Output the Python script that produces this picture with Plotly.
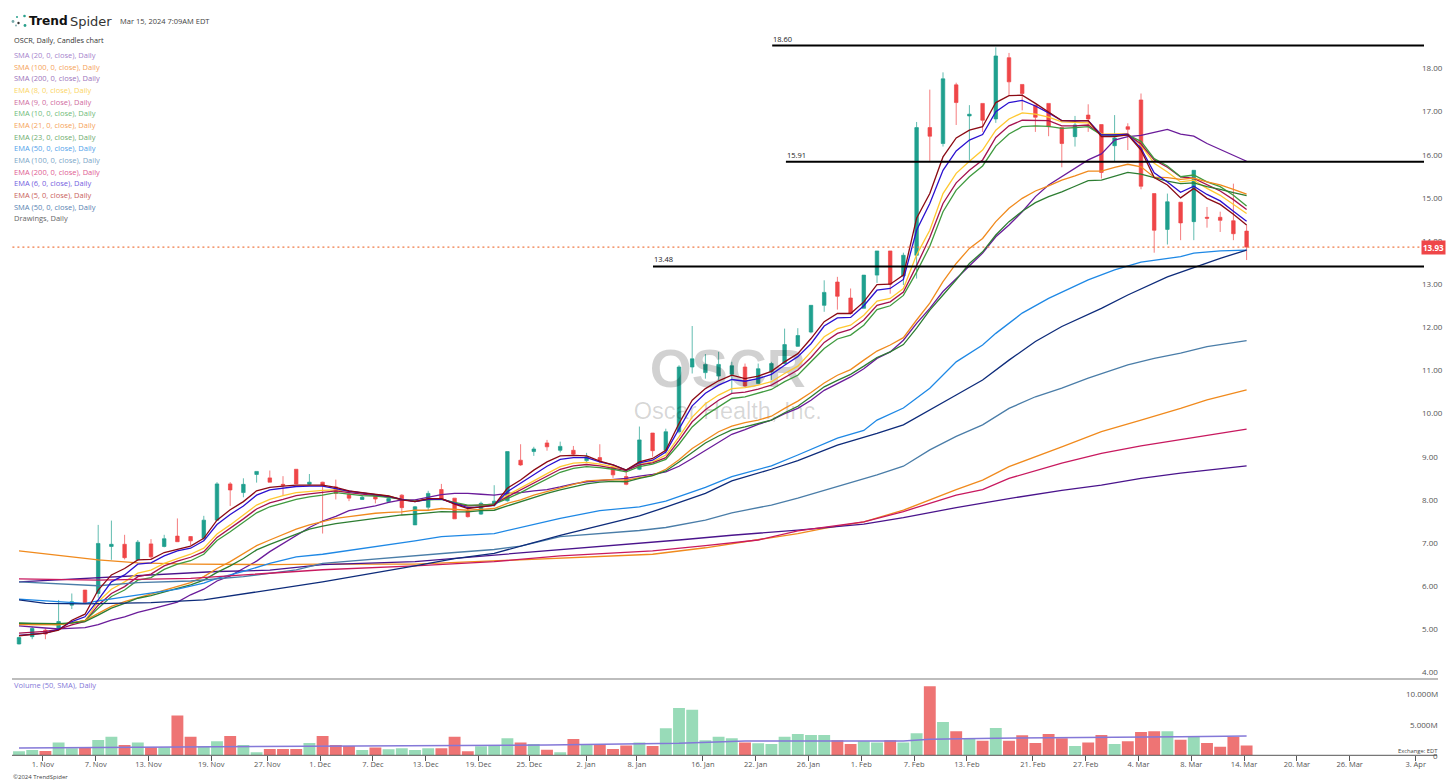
import plotly.graph_objects as go

W = 1456
H = 783

days = list(range(94))

opens = [4.73, 4.90, 5.05, 5.09, 5.63, 5.98, 5.90, 6.99, 7.04, 6.68, 7.05, 6.99, 7.23, 7.22, 7.18, 7.60, 8.44, 8.24, 8.66, 8.58, 8.43, 8.78, 8.43, 8.48,
         8.37, 8.20, 8.08, 8.17, 8.03, 8.18, 7.49, 7.90, 8.31, 8.11, 7.81, 7.74, 7.95, 8.05, 8.99, 9.19, 9.39, 9.22, 9.22, 8.98, 9.05, 8.82, 8.61, 8.78,
         9.62, 9.22, 9.65, 11.15, 11.02, 10.94, 10.98, 11.15, 10.77, 11.04, 11.23, 11.63, 11.96, 12.58, 13.12, 12.75, 12.51, 13.28, 13.84, 13.26,
         13.74, 16.70, 16.33, 17.69, 16.97, 17.26, 16.90, 18.32, 17.70, 17.22, 17.26, 16.70, 16.49, 16.99, 16.77, 16.28, 16.72, 17.34,
         15.17, 14.34, 14.97, 14.52, 14.62, 14.62, 14.54, 14.30]
highs = [4.90, 5.13, 5.09, 5.75, 5.90, 5.98, 7.49, 7.59, 7.26, 7.14, 7.16, 7.26, 7.64, 7.23, 7.70, 8.48, 8.48, 8.57, 8.73, 8.75, 8.62, 8.78, 8.67, 8.49,
         8.54, 8.30, 8.18, 8.18, 8.13, 8.20, 7.93, 8.28, 8.44, 8.11, 7.91, 8.03, 8.41, 9.19, 9.36, 9.30, 9.46, 9.42, 9.32, 9.16, 9.36, 8.84, 8.76, 9.77,
         9.62, 9.72, 11.19, 12.10, 11.45, 11.50, 11.27, 11.23, 11.23, 11.27, 12.04, 12.05, 12.58, 13.16, 13.24, 12.97, 13.28, 13.84, 13.84, 13.80,
         16.83, 17.58, 17.98, 17.74, 17.22, 17.26, 18.56, 18.43, 17.70, 17.22, 17.26, 16.70, 16.97, 17.24, 16.77, 16.99, 16.80, 17.49,
         15.17, 15.17, 14.97, 15.71, 14.86, 14.75, 15.40, 14.44]
lows = [4.72, 4.84, 4.84, 5.05, 5.54, 5.67, 5.80, 6.68, 6.69, 6.66, 6.71, 6.97, 7.10, 7.02, 7.14, 7.59, 7.93, 8.13, 8.47, 8.48, 8.17, 8.44, 8.41, 7.29,
        8.08, 8.04, 8.07, 7.99, 8.00, 7.72, 7.49, 7.82, 8.08, 7.63, 7.66, 7.72, 7.91, 8.03, 8.86, 9.09, 9.21, 9.17, 9.09, 8.95, 8.92, 8.58, 8.41, 8.76,
        9.07, 9.14, 9.61, 11.00, 10.88, 10.85, 10.54, 10.69, 10.75, 10.85, 11.22, 11.62, 11.93, 12.43, 12.48, 12.37, 12.51, 13.10, 12.85, 13.05,
        13.20, 15.93, 16.26, 16.76, 15.95, 16.60, 16.81, 17.45, 17.10, 16.60, 16.50, 15.78, 16.26, 16.60, 15.52, 15.91, 16.18, 15.27,
        13.80, 13.99, 14.09, 14.09, 14.38, 14.28, 14.09, 13.63]
closes = [4.88, 5.09, 4.96, 5.25, 5.71, 5.67, 7.06, 7.04, 6.73, 7.09, 6.75, 7.17, 7.10, 7.12, 7.60, 8.44, 8.30, 8.43, 8.73, 8.48, 8.41, 8.44, 8.48, 8.41,
          8.22, 8.11, 8.13, 8.09, 8.10, 7.89, 7.91, 8.22, 8.10, 7.63, 7.68, 7.99, 8.04, 9.19, 8.88, 9.25, 9.30, 9.31, 9.13, 9.07, 8.98, 8.65, 8.43, 9.46,
          9.21, 9.65, 11.15, 11.34, 11.21, 11.21, 11.18, 10.71, 11.11, 11.23, 11.67, 11.88, 12.58, 12.88, 12.79, 12.39, 13.28, 13.84, 13.07, 13.74,
          16.70, 16.50, 17.83, 17.28, 17.01, 16.87, 18.36, 17.76, 17.49, 16.94, 16.72, 16.33, 16.76, 16.90, 15.66, 16.46, 16.66, 15.34,
          14.32, 14.98, 14.49, 15.71, 14.60, 14.55, 14.24, 13.93]

volumes = [0.65, 0.87, 0.70, 2.07, 1.14, 1.25, 2.50, 3.04, 1.68, 2.07, 1.30, 1.30, 6.47, 3.04, 1.47, 2.28, 3.15, 1.68, 0.49, 1.03, 1.03, 1.03, 2.00, 3.15,
           1.68, 1.52, 0.87, 1.25, 0.98, 1.14, 0.87, 1.14, 1.14, 3.04, 0.65, 1.47, 1.50, 2.77, 2.07, 1.85, 0.92, 0.49, 2.66, 1.80, 1.80, 1.03, 1.58, 2.07,
           1.52, 4.40, 7.70, 7.40, 2.45, 3.04, 2.77, 2.07, 1.96, 1.85, 3.04, 3.48, 3.30, 3.30, 2.45, 1.85, 2.28, 2.07, 2.45, 2.07,
           3.60, 11.25, 5.43, 3.90, 2.77, 2.39, 4.46, 2.39, 3.26, 2.00, 3.48, 2.77, 1.52, 2.07, 3.30, 1.85, 2.28, 3.80,
           3.90, 3.90, 2.55, 3.10, 2.00, 1.41, 3.00, 1.58]
vol_up = [1, 1, 0, 1, 1, 0, 1, 1, 0, 1, 0, 1, 0, 0, 1, 1, 0, 1, 1, 0, 0, 0, 1, 0,
          0, 0, 1, 0, 1, 1, 1, 1, 0, 0, 0, 1, 1, 1, 0, 1, 0, 1, 0, 1, 0, 0, 0, 1,
          0, 1, 1, 1, 1, 1, 1, 0, 1, 1, 1, 1, 1, 1, 0, 0, 1, 1, 0, 1,
          1, 0, 1, 0, 1, 0, 1, 0, 0, 0, 0, 0, 1, 0, 0, 1, 0, 0,
          0, 1, 0, 1, 0, 0, 0, 0]
vol_sma_x = [0, 10, 20, 30, 40, 50, 55, 67, 69, 74, 80, 88, 93]
vol_sma = [1.20, 1.30, 1.50, 1.57, 1.68, 1.95, 2.33, 2.33, 2.60, 2.77, 2.93, 3.04, 3.15]

ema5 = [4.92, 4.95, 4.98, 5.05, 5.28, 5.42, 5.98, 6.33, 6.48, 6.68, 6.69, 6.85, 6.93, 7.00, 7.18, 7.60, 7.84, 8.03, 8.28, 8.36, 8.39, 8.41, 8.41, 8.41,
        8.36, 8.28, 8.24, 8.20, 8.16, 8.07, 8.03, 8.10, 8.10, 7.97, 7.87, 7.91, 7.95, 8.34, 8.53, 8.76, 8.95, 9.09, 9.10, 9.09, 8.97, 8.88, 8.76, 8.95,
        9.03, 9.22, 9.84, 10.38, 10.65, 10.83, 10.96, 10.88, 10.94, 11.05, 11.27, 11.46, 11.81, 12.20, 12.39, 12.39, 12.66, 13.06, 13.07, 13.28,
        14.60, 15.17, 16.02, 16.46, 16.64, 16.72, 17.28, 17.44, 17.45, 17.26, 17.07, 16.86, 16.85, 16.86, 16.49, 16.49, 16.53, 16.18,
        15.54, 15.37, 15.07, 15.29, 15.06, 14.92, 14.69, 14.44]
ema6 = [4.93, 4.95, 4.98, 5.07, 5.25, 5.36, 5.75, 6.17, 6.33, 6.58, 6.61, 6.77, 6.89, 6.95, 7.12, 7.50, 7.73, 7.93, 8.18, 8.30, 8.34, 8.38, 8.39, 8.39,
        8.33, 8.27, 8.23, 8.19, 8.15, 8.08, 8.03, 8.08, 8.09, 7.99, 7.89, 7.91, 7.94, 8.26, 8.45, 8.65, 8.85, 9.01, 9.05, 9.05, 8.95, 8.88, 8.76, 8.93,
        8.99, 9.18, 9.72, 10.25, 10.54, 10.73, 10.86, 10.82, 10.88, 10.98, 11.19, 11.39, 11.69, 12.10, 12.29, 12.30, 12.57, 12.93, 12.97, 13.18,
        14.32, 14.94, 15.71, 16.16, 16.41, 16.54, 17.07, 17.28, 17.33, 17.20, 17.04, 16.86, 16.86, 16.86, 16.53, 16.53, 16.55, 16.22,
        15.65, 15.44, 15.20, 15.34, 15.15, 15.00, 14.76, 14.53]
ema8 = [5.20, 5.18, 5.18, 5.18, 5.22, 5.27, 5.71, 6.00, 6.17, 6.37, 6.44, 6.60, 6.71, 6.81, 6.95, 7.28, 7.49, 7.72, 7.95, 8.08, 8.17, 8.24, 8.27, 8.29,
        8.30, 8.26, 8.22, 8.19, 8.16, 8.08, 8.04, 8.08, 8.10, 7.99, 7.93, 7.94, 7.96, 8.18, 8.34, 8.51, 8.68, 8.84, 8.92, 8.94, 8.90, 8.84, 8.76, 8.89,
        8.95, 9.11, 9.53, 9.99, 10.30, 10.50, 10.65, 10.67, 10.73, 10.81, 11.00, 11.17, 11.50, 11.85, 12.04, 12.12, 12.35, 12.68, 12.74, 12.97,
        13.75, 14.32, 15.17, 15.64, 15.92, 16.18, 16.64, 16.90, 17.04, 17.01, 16.94, 16.83, 16.82, 16.81, 16.55, 16.55, 16.56, 16.29,
        15.87, 15.67, 15.44, 15.48, 15.29, 15.13, 14.93, 14.71]
ema9 = [4.98, 5.00, 5.02, 5.07, 5.17, 5.25, 5.63, 5.90, 6.06, 6.29, 6.35, 6.54, 6.65, 6.74, 6.87, 7.20, 7.41, 7.63, 7.86, 8.00, 8.08, 8.17, 8.21, 8.25,
        8.28, 8.24, 8.20, 8.17, 8.14, 8.08, 8.04, 8.08, 8.10, 7.99, 7.93, 7.95, 7.97, 8.14, 8.30, 8.47, 8.63, 8.78, 8.86, 8.89, 8.86, 8.81, 8.75, 8.88,
        8.93, 9.05, 9.45, 9.88, 10.16, 10.38, 10.54, 10.57, 10.64, 10.73, 10.91, 11.08, 11.37, 11.72, 11.93, 12.02, 12.24, 12.58, 12.66, 12.89,
        13.50, 14.15, 14.94, 15.42, 15.71, 15.95, 16.47, 16.74, 16.87, 16.87, 16.86, 16.74, 16.74, 16.76, 16.53, 16.53, 16.54, 16.32,
        15.95, 15.78, 15.56, 15.52, 15.37, 15.23, 15.03, 14.80]
ema10 = [5.21, 5.20, 5.19, 5.18, 5.22, 5.27, 5.56, 5.83, 5.98, 6.21, 6.27, 6.46, 6.58, 6.66, 6.81, 7.13, 7.33, 7.55, 7.77, 7.91, 8.00, 8.08, 8.14, 8.18,
         8.24, 8.20, 8.17, 8.16, 8.13, 8.08, 8.04, 8.07, 8.08, 8.01, 7.95, 7.95, 7.97, 8.10, 8.24, 8.40, 8.55, 8.71, 8.80, 8.84, 8.82, 8.78, 8.72, 8.84,
         8.90, 9.01, 9.36, 9.76, 10.03, 10.23, 10.42, 10.46, 10.54, 10.63, 10.81, 10.96, 11.27, 11.58, 11.80, 11.89, 12.12, 12.48, 12.57, 12.81,
         13.35, 13.95, 14.75, 15.25, 15.56, 15.81, 16.27, 16.55, 16.72, 16.74, 16.73, 16.68, 16.70, 16.72, 16.53, 16.52, 16.53, 16.38,
         15.98, 15.81, 15.56, 15.60, 15.44, 15.33, 15.13, 14.88]
ema21 = [5.18, 5.18, 5.18, 5.18, 5.22, 5.27, 5.44, 5.60, 5.71, 5.80, 5.88, 5.98, 6.06, 6.15, 6.29, 6.48, 6.64, 6.82, 7.01, 7.14, 7.27, 7.39, 7.49, 7.57,
         7.64, 7.68, 7.72, 7.76, 7.78, 7.79, 7.83, 7.83, 7.87, 7.85, 7.83, 7.85, 7.87, 7.99, 8.07, 8.18, 8.26, 8.34, 8.43, 8.51, 8.53, 8.54, 8.53, 8.59,
         8.64, 8.78, 9.00, 9.26, 9.45, 9.65, 9.78, 9.86, 9.92, 10.01, 10.19, 10.36, 10.56, 10.78, 10.96, 11.09, 11.31, 11.52, 11.66, 11.83,
         12.24, 12.63, 13.13, 13.55, 13.90, 14.13, 14.52, 14.83, 15.06, 15.23, 15.35, 15.48, 15.58, 15.69, 15.69, 15.78, 15.85, 15.79,
         15.55, 15.54, 15.50, 15.53, 15.44, 15.37, 15.27, 15.16]
ema23 = [5.21, 5.21, 5.20, 5.20, 5.22, 5.25, 5.40, 5.56, 5.67, 5.79, 5.85, 5.94, 6.02, 6.10, 6.21, 6.39, 6.54, 6.71, 6.91, 7.04, 7.16, 7.27, 7.39, 7.46,
         7.52, 7.56, 7.60, 7.64, 7.69, 7.72, 7.74, 7.77, 7.80, 7.79, 7.79, 7.82, 7.83, 7.93, 8.03, 8.13, 8.22, 8.30, 8.37, 8.44, 8.48, 8.50, 8.49, 8.57,
         8.63, 8.74, 8.95, 9.18, 9.39, 9.55, 9.69, 9.76, 9.84, 9.92, 10.09, 10.24, 10.46, 10.69, 10.84, 10.98, 11.17, 11.37, 11.50, 11.67,
         12.05, 12.47, 12.82, 13.17, 13.55, 13.82, 14.21, 14.52, 14.76, 14.96, 15.10, 15.21, 15.34, 15.47, 15.48, 15.57, 15.66, 15.62,
         15.54, 15.46, 15.40, 15.42, 15.33, 15.27, 15.19, 15.12]
sma20 = [5.15, 5.12, 5.10, 5.08, 5.09, 5.11, 5.18, 5.28, 5.36, 5.46, 5.54, 5.62, 5.70, 5.87, 6.00, 6.19, 6.31, 6.48, 6.65, 6.87, 7.06, 7.23, 7.43, 7.58,
         7.69, 7.82, 7.87, 7.93, 8.01, 8.07, 8.07, 8.13, 8.19, 8.22, 8.22, 8.20, 8.18, 8.22, 8.24, 8.28, 8.31, 8.37, 8.44, 8.49, 8.52, 8.55, 8.57, 8.62,
         8.66, 8.72, 8.85, 9.03, 9.22, 9.41, 9.59, 9.70, 9.82, 9.92, 10.07, 10.19, 10.38, 10.61, 10.77, 10.92, 11.11, 11.35, 11.50, 11.77,
         12.16, 12.51, 12.90, 13.20, 13.48, 13.79, 14.17, 14.44, 14.75, 15.10, 15.37, 15.56, 15.75, 15.95, 16.09, 16.41, 16.49, 16.52,
         16.59, 16.66, 16.55, 16.50, 16.33, 16.19, 16.06, 15.92]

ema50_x = [0, 5, 6, 9, 12, 14, 15, 17, 19, 21, 23, 30, 32, 36, 38, 41, 44, 47, 49, 52, 54, 57, 59, 62, 64, 65, 67, 69, 71, 73, 74, 76, 78, 81, 83, 85, 88, 89, 91, 93]
ema50 = [5.77, 5.67, 5.73, 5.86, 6.00, 6.14, 6.25, 6.41, 6.60, 6.75, 6.81, 7.12, 7.22, 7.29, 7.43, 7.64, 7.82, 7.91, 8.04, 8.36, 8.61, 8.86, 9.11, 9.50, 9.68, 9.92, 10.20, 10.66, 11.27, 11.66, 11.93, 12.40, 12.74, 13.17, 13.40, 13.58, 13.71, 13.79, 13.84, 13.86]
sma50_x = [0, 2, 5, 10, 14, 19, 23, 30, 33, 36, 41, 47, 49, 52, 54, 57, 59, 62, 65, 67, 69, 71, 73, 75, 77, 79, 82, 84, 87, 89, 91, 93]
sma50 = [5.75, 5.67, 5.66, 5.69, 5.75, 5.98, 6.17, 6.54, 6.71, 6.83, 7.25, 7.70, 7.90, 8.22, 8.51, 8.78, 8.98, 9.34, 9.61, 9.81, 10.15, 10.50, 10.85, 11.31, 11.74, 12.09, 12.51, 12.82, 13.24, 13.45, 13.67, 13.86]
ema100_x = [0, 6, 9, 13, 17, 21, 23, 28, 33, 36, 38, 41, 47, 49, 52, 54, 57, 59, 62, 65, 67, 69, 71, 73, 75, 77, 79, 81, 84, 86, 88, 90, 93]
ema100 = [6.17, 6.08, 6.15, 6.19, 6.29, 6.45, 6.60, 6.73, 6.85, 6.92, 7.00, 7.22, 7.36, 7.43, 7.60, 7.77, 7.95, 8.11, 8.38, 8.65, 8.85, 9.23, 9.54, 9.81, 10.19, 10.46, 10.66, 10.89, 11.20, 11.35, 11.47, 11.62, 11.76]
sma100_x = [0, 2, 6, 9, 13, 19, 23, 30, 35, 41, 48, 52, 56, 59, 61, 64, 67, 71, 73, 75, 79, 82, 85, 88, 90, 93]
sma100 = [6.89, 6.82, 6.68, 6.61, 6.58, 6.57, 6.58, 6.58, 6.64, 6.71, 6.81, 6.96, 7.14, 7.29, 7.41, 7.56, 7.83, 8.31, 8.53, 8.84, 9.30, 9.65, 9.92, 10.19, 10.39, 10.62]
ema200_x = [0, 6, 13, 19, 23, 30, 36, 41, 48, 52, 56, 59, 64, 67, 71, 73, 75, 79, 82, 85, 88, 90, 93]
ema200 = [6.24, 6.21, 6.25, 6.37, 6.45, 6.54, 6.64, 6.77, 6.89, 7.01, 7.14, 7.35, 7.56, 7.80, 8.18, 8.31, 8.57, 8.92, 9.15, 9.32, 9.46, 9.57, 9.71]
sma200_x = [0, 2, 6, 9, 15, 19, 23, 30, 36, 42, 48, 50, 54, 59, 64, 67, 71, 75, 79, 82, 85, 88, 93]
sma200 = [6.17, 6.20, 6.27, 6.31, 6.41, 6.44, 6.57, 6.64, 6.79, 6.94, 7.08, 7.14, 7.25, 7.37, 7.51, 7.66, 7.89, 8.10, 8.29, 8.41, 8.57, 8.69, 8.86]

price_ticks = [4, 5, 6, 7, 8, 9, 10, 11, 12, 13, 14, 15, 16, 17, 18]
volume_ticks = [0, 5, 10]
volume_tick_text = ["0", "5.000M", "10.000M"]
date_ticks = [2, 6, 10, 14.75, 19, 23, 27, 31, 35, 38.85, 43.15, 47, 52, 56, 60, 64, 68, 72, 77, 81, 85, 89, 93, 97, 101, 106]
date_labels = ["1. Nov", "7. Nov", "13. Nov", "19. Nov", "27. Nov", "1. Dec", "7. Dec", "13. Dec", "19. Dec", "25. Dec",
               "2. Jan", "8. Jan", "16. Jan", "22. Jan", "26. Jan", "1. Feb", "7. Feb", "13. Feb", "21. Feb", "27. Feb",
               "4. Mar", "8. Mar", "14. Mar", "20. Mar", "26. Mar", "3. Apr"]

levels = [18.60, 15.91, 13.48]
level_start = [57.06, 58.1, 48.03]
level_end = 107.5
last_price = 13.93

legend_names = ["SMA (20, 0, close), Daily", "SMA (100, 0, close), Daily", "SMA (200, 0, close), Daily", "EMA (8, 0, close), Daily",
                "EMA (9, 0, close), Daily", "EMA (10, 0, close), Daily", "EMA (21, 0, close), Daily", "EMA (23, 0, close), Daily",
                "EMA (50, 0, close), Daily", "EMA (100, 0, close), Daily", "EMA (200, 0, close), Daily", "EMA (6, 0, close), Daily",
                "EMA (5, 0, close), Daily", "SMA (50, 0, close), Daily", "Drawings, Daily"]
legend_colors = ["#a583cc", "#f5a35a", "#9d74bb", "#fbd564", "#cf6ba0", "#70bb7a", "#f5a35a", "#70ad70", "#52a2ea", "#7ca6c8",
                 "#e05c92", "#7460e0", "#c9625c", "#5a84b2", "#666666"]


def px(x):
    return x / W


def py(y):
    return 1 - y / H


fig = go.Figure()

fig.add_trace(go.Candlestick(x=days, open=opens, high=highs, low=lows, close=closes,
                             increasing=dict(line=dict(color="rgba(31,160,142,0.7)", width=1), fillcolor="#1fa08e"),
                             decreasing=dict(line=dict(color="rgba(239,70,72,0.7)", width=1), fillcolor="#ef4648"),
                             whiskerwidth=0, xaxis="x", yaxis="y", showlegend=False, hoverinfo="skip"))

# watermark sits under the moving averages
fig.add_trace(go.Scatter(x=[53.7], y=[11.01], mode="text", text=["<b>OSCR</b>"], cliponaxis=False,
                         textfont=dict(family="Liberation Sans", size=54, color="rgba(0,0,0,0.18)"), showlegend=False, hoverinfo="skip"))
fig.add_trace(go.Scatter(x=[53.7], y=[10.08], mode="text", text=["Oscar Health, Inc."], cliponaxis=False,
                         textfont=dict(family="Liberation Sans", size=23.5, color="rgba(0,0,0,0.16)"), showlegend=False, hoverinfo="skip"))

ma_lines = [
    (days, sma20, "#6a1b9a"),
    (sma100_x, sma100, "#f08a1d"),
    (sma200_x, sma200, "#4a148c"),
    (days, ema8, "#ffc830"),
    (days, ema9, "#a5124f"),
    (days, ema10, "#3f9a3f"),
    (days, ema21, "#f08a1d"),
    (days, ema23, "#2d7d32"),
    (ema50_x, ema50, "#1e88e5"),
    (ema100_x, ema100, "#4a7da8"),
    (ema200_x, ema200, "#c8195f"),
    (days, ema6, "#2a10d0"),
    (days, ema5, "#8b0a14"),
    (sma50_x, sma50, "#0d2b7a"),
]
for xs, ys, color in ma_lines:
    fig.add_trace(go.Scatter(x=xs, y=ys, mode="lines", line=dict(color=color, width=1.3),
                             showlegend=False, hoverinfo="skip"))

# drawn levels and last price
for level, start in zip(levels, level_start):
    fig.add_trace(go.Scatter(x=[start, level_end], y=[level, level], mode="lines", line=dict(color="black", width=2),
                             cliponaxis=False, showlegend=False, hoverinfo="skip"))
    fig.add_annotation(x=start, y=level, text=f"{level:.2f}", showarrow=False, xanchor="left", yanchor="bottom", yshift=0, xshift=-1,
                       font=dict(family="Open Sans", size=7.5, color="#222222"))
fig.add_trace(go.Scatter(x=[-0.5, 106.2], y=[last_price, last_price], mode="lines",
                         line=dict(color="#f07a45", width=1.3, dash="2px 3px"), showlegend=False, hoverinfo="skip"))
fig.add_annotation(x=106.2, y=last_price, text=f"<b>{last_price:.2f}</b>", showarrow=False, xanchor="left", bgcolor="#ef4648",
                   font=dict(family="Open Sans", size=8, color="white"), borderpad=1)

bar_colors = ["#98dbb8" if up else "#ee7474" for up in vol_up]
fig.add_trace(go.Bar(x=days, y=volumes, marker=dict(color=bar_colors, line=dict(width=0)), width=0.9,
                     xaxis="x", yaxis="y2", showlegend=False, hoverinfo="skip"))
fig.add_trace(go.Scatter(x=vol_sma_x, y=vol_sma, mode="lines", line=dict(color="#8478d8", width=1.5),
                         xaxis="x", yaxis="y2", showlegend=False, hoverinfo="skip"))

# volume scale labels are right aligned, unlike the price ones
for tick, label in zip(volume_ticks, volume_tick_text):
    fig.add_annotation(x=px(1439.5), xref="paper", y=tick, yref="y2", text=label, showarrow=False, xanchor="right",
                       font=dict(family="Open Sans", size=8, color="#555555"))


# header and legend text
def note(x, y, text, size, color, anchor="left", family="Open Sans"):
    fig.add_annotation(x=px(x), y=py(y), xref="paper", yref="paper", text=text, showarrow=False, xanchor=anchor,
                       yanchor="middle", font=dict(family=family, size=size, color=color))


note(27, 21, "<b>Trend</b>", 12.2, "#111111", family="DejaVu Sans")
note(67.5, 21, "Spider", 13, "#333333", family="DejaVu Sans")
note(117.5, 21, "Mar 15, 2024 7:09AM EDT", 7.5, "#444444")
note(11.5, 39.5, "OSCR, Daily, Candles chart", 7.3, "#333333")
for n, (name, color) in enumerate(zip(legend_names, legend_colors)):
    note(11.5, 55 + n * 11.66, name, 7.5, color)
note(11.5, 685, "Volume (50, SMA), Daily", 7.5, "#8478d8")
note(10.5, 777, "©2024 TrendSpider", 6, "#444444")
note(1439.5, 750.5, "Exchange: EDT", 5.8, "#444444", anchor="right")

shapes = [dict(type="line", xref="paper", yref="paper", x0=px(12), x1=px(1438), y0=py(679), y1=py(679),
               line=dict(color="#bdbdbd", width=2)),
          dict(type="line", xref="paper", yref="paper", x0=px(12), x1=px(1437), y0=py(755.3), y1=py(755.3),
               line=dict(color="#555555", width=1))]
# logo dots
for cx, cy, r, color in [(13, 21.5, 1.4, "#7aa"), (17, 17, 1, "#2aa08c"), (24.5, 16, 1.3, "#2aa08c"),
                         (18.5, 23, 1.2, "#333333"), (25, 25.5, 1.4, "#2aa08c"), (16, 25.5, 0.9, "#7aa")]:
    shapes.append(dict(type="circle", xref="paper", yref="paper", x0=px(cx - r), x1=px(cx + r), y0=py(cy + r), y1=py(cy - r),
                       line=dict(width=0), fillcolor=color))

fig.update_layout(
    width=W, height=H, margin=dict(l=0, r=0, t=0, b=0, autoexpand=False), autosize=False,
    paper_bgcolor="white", plot_bgcolor="white", showlegend=False, boxgap=0.62, shapes=shapes,
    xaxis=dict(domain=[px(12), px(1424)], range=[-0.53, (1424 - 19) / 13.2], anchor="y2", showgrid=False, zeroline=False,
               tickmode="array", tickvals=[t - 0.19 for t in date_ticks], ticktext=date_labels,
               ticks="outside", ticklen=5, tickcolor="#555555", tickwidth=1, ticklabelstandoff=-3,
               tickfont=dict(family="Open Sans", size=7.5, color="#555555"),
               showline=False, rangeslider=dict(visible=False)),
    yaxis=dict(domain=[py(679), 1], range=[18 - (679 - 71.5) / 43.14, 18 + 71.5 / 43.14], side="right", anchor="x",
               showgrid=False, zeroline=False, tickmode="array", tickvals=price_ticks,
               ticktext=[f"{t:.2f}" for t in price_ticks], ticks="", ticklabelshift=-3, ticklabelstandoff=-3,
               tickfont=dict(family="Open Sans", size=8, color="#555555")),
    yaxis2=dict(domain=[py(755.3), py(680)], range=[0, 75.3 / 6.14], side="right", anchor="x",
                showgrid=False, zeroline=False, showticklabels=False, ticks=""),
)

fig.write_html("out.html", post_script="document.body.style.margin='0';", config=dict(displayModeBar=False))
